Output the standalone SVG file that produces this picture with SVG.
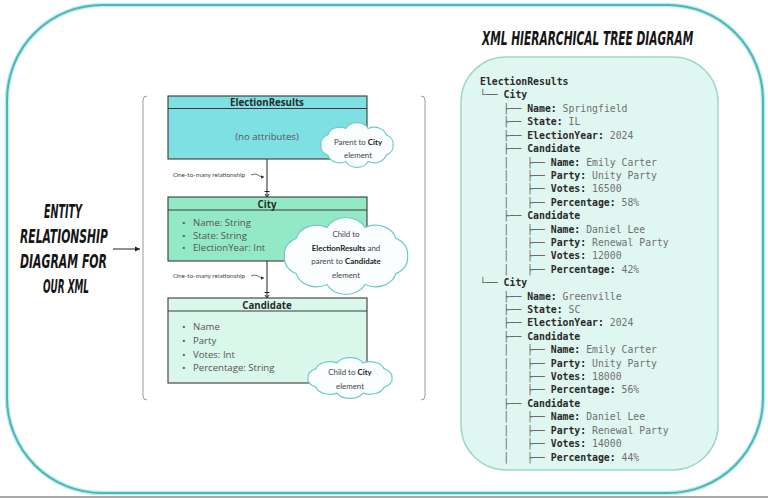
<svg xmlns="http://www.w3.org/2000/svg" width="768" height="498" viewBox="0 0 768 498">
<style>
.ttl{font-family:"DejaVu Sans","Liberation Sans",sans-serif;font-weight:900;font-style:italic;fill:#151515}
.hdr{font-family:"Open Sans","Noto Sans",sans-serif;font-weight:700;font-size:9.7px;fill:#2a2a2a}
.itm{font-family:"Open Sans","Noto Sans",sans-serif;font-size:9.6px;fill:#555}
.cl{font-family:Lato,"Open Sans",sans-serif;font-size:7.9px;fill:#444}
.clb{font-weight:700;fill:#222}
.rel{font-family:Lato,"Open Sans",sans-serif;font-size:6.4px;fill:#444}
.box{stroke:#3a3a3a;stroke-width:1.1}
.cloud{fill:#fbfefe;stroke:#70c8c8;stroke-width:1.2}
.tr{font-family:"DejaVu Sans Mono","Liberation Mono",monospace;font-size:9.8px;fill:#5a5a5a;white-space:pre}
.k{font-weight:700;fill:#2a2a2a}
.v{fill:#707070}
</style>
<defs>
<path id="cloudShape" vector-effect="non-scaling-stroke" d="M50,0 A17,17 0 0,1 40.5,17.6 A17,17 0 0,1 15.5,28.5 A17,17 0 0,1 -15.5,28.5 A17,17 0 0,1 -40.5,17.6 A17,17 0 0,1 -50,0 A17,17 0 0,1 -40.5,-17.6 A17,17 0 0,1 -15.5,-28.5 A17,17 0 0,1 15.5,-28.5 A17,17 0 0,1 40.5,-17.6 A17,17 0 0,1 50,0 Z"/>
<marker id="ah" markerWidth="6" markerHeight="6" refX="5" refY="3" orient="auto" markerUnits="userSpaceOnUse">
<path d="M0,0.5 L5,3 L0,5.5 Z" fill="#222"/>
</marker>
<marker id="ahs" markerWidth="4" markerHeight="4" refX="3.5" refY="2" orient="auto" markerUnits="userSpaceOnUse">
<path d="M0,0 L3.5,2 L0,4 Z" fill="#333"/>
</marker>
</defs>

<rect width="768" height="498" fill="#ffffff"/>
<rect x="0" y="496" width="768" height="2" fill="#a8a8a8"/>

<g id="outer-frame">
<rect x="7" y="5" width="756" height="488" rx="95" ry="95" fill="none" stroke="#bdeeee" stroke-width="4.5"/>
<rect x="7" y="5" width="756" height="488" rx="95" ry="95" fill="none" stroke="#4db5b5" stroke-width="2"/>
</g>

<g id="er-title">
<text class="ttl" x="44" y="218" font-size="19" textLength="38" lengthAdjust="spacingAndGlyphs">ENTITY</text>
<text class="ttl" x="20" y="243" font-size="19" textLength="88" lengthAdjust="spacingAndGlyphs">RELATIONSHIP</text>
<text class="ttl" x="20" y="268" font-size="19" textLength="87" lengthAdjust="spacingAndGlyphs">DIAGRAM FOR</text>
<text class="ttl" x="43" y="293" font-size="19" textLength="46" lengthAdjust="spacingAndGlyphs">OUR XML</text>
</g>

<g id="tree-title">
<text class="ttl" transform="translate(482,45) scale(0.6,1)" x="0" y="0" font-size="20" textLength="352" lengthAdjust="spacingAndGlyphs">XML HIERARCHICAL TREE DIAGRAM</text>
</g>

<g id="er-bracket" fill="none" stroke="#9a9a9a" stroke-width="1">
<path d="M147,96 Q143,96 143,100 L143,396 Q143,400 147,400"/>
<path d="M421,96 Q425,96 425,100 L425,396 Q425,400 421,400"/>
</g>

<g id="connectors" fill="none" stroke="#222" stroke-width="1">
<line x1="113" y1="249" x2="140" y2="249" marker-end="url(#ah)"/>
<line x1="267" y1="159" x2="267" y2="197"/>
<line x1="264.5" y1="191.5" x2="269.5" y2="191.5"/>
<path d="M265,194 L267,197 L269,194"/>
<line x1="267" y1="261" x2="267" y2="298"/>
<line x1="264.5" y1="292.5" x2="269.5" y2="292.5"/>
<path d="M265,295 L267,298 L269,295"/>
<path d="M251,175 q4,-2 7,0 q2,2 6,2" stroke="#333" stroke-width="0.7" marker-end="url(#ahs)"/>
<path d="M251,276 q4,-2 7,0 q2,2 6,2" stroke="#333" stroke-width="0.7" marker-end="url(#ahs)"/>
<text class="rel" x="173" y="176.5" stroke="none">One-to-many relationship</text>
<text class="rel" x="173" y="277.5" stroke="none">One-to-many relationship</text>
</g>

<g id="ElectionResults">
<rect class="box" x="168" y="96" width="199" height="63" fill="#7fe0e4"/>
<line class="box" x1="168" y1="108.5" x2="367" y2="108.5"/>
<text class="hdr" x="267" y="106" text-anchor="middle">ElectionResults</text>
<text class="itm" x="267" y="139.5" text-anchor="middle" font-size="10">(no attributes)</text>
</g>

<g id="City">
<rect class="box" x="168" y="197" width="199" height="64" fill="#93e9c6"/>
<line class="box" x1="168" y1="210" x2="367" y2="210"/>
<text class="hdr" x="267" y="207.5" text-anchor="middle">City</text>
<text class="itm" x="182" y="226">•</text><text class="itm" x="193" y="226">Name: String</text>
<text class="itm" x="182" y="238.5">•</text><text class="itm" x="193" y="238.5">State: String</text>
<text class="itm" x="182" y="251">•</text><text class="itm" x="193" y="251">ElectionYear: Int</text>
</g>

<g id="Candidate">
<rect class="box" x="168" y="298" width="199" height="85" fill="#d9f7eb"/>
<line class="box" x1="168" y1="311" x2="367" y2="311"/>
<text class="hdr" x="267" y="308.5" text-anchor="middle">Candidate</text>
<text class="itm" x="182" y="330">•</text><text class="itm" x="193" y="330">Name</text>
<text class="itm" x="182" y="344">•</text><text class="itm" x="193" y="344">Party</text>
<text class="itm" x="182" y="357.5">•</text><text class="itm" x="193" y="357.5">Votes: Int</text>
<text class="itm" x="182" y="371">•</text><text class="itm" x="193" y="371">Percentage: String</text>
</g>

<g id="cloud-parent">
<use href="#cloudShape" class="cloud" transform="translate(357,145) scale(0.72,0.58)"/>
<text class="cl" x="358" y="144.5" text-anchor="middle">Parent to <tspan class="clb">City</tspan></text>
<text class="cl" x="358" y="158" text-anchor="middle">element</text>
</g>

<g id="cloud-child-parent">
<use href="#cloudShape" class="cloud" transform="translate(346,256) scale(1.23,1.0)"/>
<text class="cl" x="346" y="237" text-anchor="middle">Child to</text>
<text class="cl" x="346" y="250.5" text-anchor="middle"><tspan class="clb">ElectionResults</tspan> and</text>
<text class="cl" x="346" y="264" text-anchor="middle">parent to <tspan class="clb">Candidate</tspan></text>
<text class="cl" x="346" y="277.5" text-anchor="middle">element</text>
</g>

<g id="cloud-child">
<use href="#cloudShape" class="cloud" transform="translate(350,378) scale(0.84,0.53)"/>
<text class="cl" x="350" y="375" text-anchor="middle">Child to <tspan class="clb">City</tspan></text>
<text class="cl" x="350" y="389" text-anchor="middle">element</text>
</g>

<g id="tree-panel">
<rect x="461" y="57" width="257" height="413" rx="45" ry="45" fill="#dff7f0" stroke="#9fd7cb" stroke-width="1.5"/>
<text class="tr" x="480" y="85"><tspan class="k">ElectionResults</tspan></text>
<text class="tr" x="480" y="98.4">└── <tspan class="k">City</tspan></text>
<text class="tr" x="480" y="111.8">    ├── <tspan class="k">Name:</tspan> <tspan class="v">Springfield</tspan></text>
<text class="tr" x="480" y="125.2">    ├── <tspan class="k">State:</tspan> <tspan class="v">IL</tspan></text>
<text class="tr" x="480" y="138.6">    ├── <tspan class="k">ElectionYear:</tspan> <tspan class="v">2024</tspan></text>
<text class="tr" x="480" y="152.1">    ├── <tspan class="k">Candidate</tspan></text>
<text class="tr" x="480" y="165.5">    │   ├── <tspan class="k">Name:</tspan> <tspan class="v">Emily Carter</tspan></text>
<text class="tr" x="480" y="178.9">    │   ├── <tspan class="k">Party:</tspan> <tspan class="v">Unity Party</tspan></text>
<text class="tr" x="480" y="192.3">    │   ├── <tspan class="k">Votes:</tspan> <tspan class="v">16500</tspan></text>
<text class="tr" x="480" y="205.7">    │   ├── <tspan class="k">Percentage:</tspan> <tspan class="v">58%</tspan></text>
<text class="tr" x="480" y="219.1">    ├── <tspan class="k">Candidate</tspan></text>
<text class="tr" x="480" y="232.5">    │   ├── <tspan class="k">Name:</tspan> <tspan class="v">Daniel Lee</tspan></text>
<text class="tr" x="480" y="245.9">    │   ├── <tspan class="k">Party:</tspan> <tspan class="v">Renewal Party</tspan></text>
<text class="tr" x="480" y="259.3">    │   ├── <tspan class="k">Votes:</tspan> <tspan class="v">12000</tspan></text>
<text class="tr" x="480" y="272.7">    │   ├── <tspan class="k">Percentage:</tspan> <tspan class="v">42%</tspan></text>
<text class="tr" x="480" y="286.2">└── <tspan class="k">City</tspan></text>
<text class="tr" x="480" y="299.6">    ├── <tspan class="k">Name:</tspan> <tspan class="v">Greenville</tspan></text>
<text class="tr" x="480" y="313">    ├── <tspan class="k">State:</tspan> <tspan class="v">SC</tspan></text>
<text class="tr" x="480" y="326.4">    ├── <tspan class="k">ElectionYear:</tspan> <tspan class="v">2024</tspan></text>
<text class="tr" x="480" y="339.8">    ├── <tspan class="k">Candidate</tspan></text>
<text class="tr" x="480" y="353.2">    │   ├── <tspan class="k">Name:</tspan> <tspan class="v">Emily Carter</tspan></text>
<text class="tr" x="480" y="366.6">    │   ├── <tspan class="k">Party:</tspan> <tspan class="v">Unity Party</tspan></text>
<text class="tr" x="480" y="380">    │   ├── <tspan class="k">Votes:</tspan> <tspan class="v">18000</tspan></text>
<text class="tr" x="480" y="393.4">    │   ├── <tspan class="k">Percentage:</tspan> <tspan class="v">56%</tspan></text>
<text class="tr" x="480" y="406.8">    ├── <tspan class="k">Candidate</tspan></text>
<text class="tr" x="480" y="420.3">    │   ├── <tspan class="k">Name:</tspan> <tspan class="v">Daniel Lee</tspan></text>
<text class="tr" x="480" y="433.7">    │   ├── <tspan class="k">Party:</tspan> <tspan class="v">Renewal Party</tspan></text>
<text class="tr" x="480" y="447.1">    │   ├── <tspan class="k">Votes:</tspan> <tspan class="v">14000</tspan></text>
<text class="tr" x="480" y="460.5">    │   ├── <tspan class="k">Percentage:</tspan> <tspan class="v">44%</tspan></text>
</g>
</svg>
